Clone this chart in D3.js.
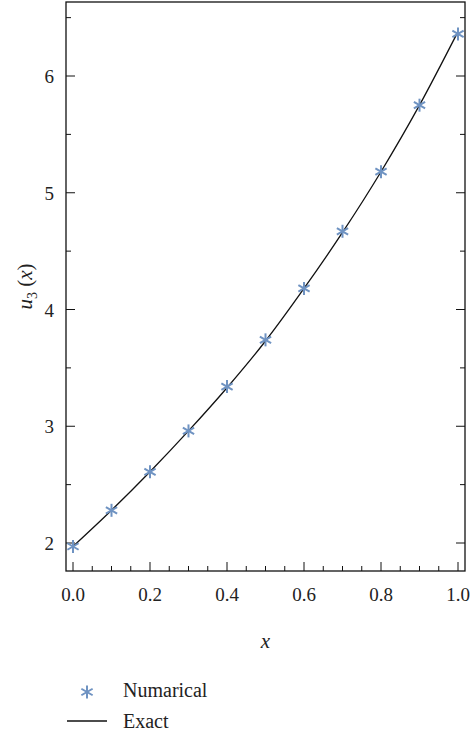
<!DOCTYPE html>
<html>
<head>
<meta charset="utf-8">
<script src="https://cdn.jsdelivr.net/npm/d3@7"></script>
<style>
  body { margin: 0; background: #fff; }
  text { font-family: "Liberation Serif", "DejaVu Serif", serif; fill: #222; }
</style>
</head>
<body>
<script>
var xs = [0, 0.1, 0.2, 0.3, 0.4, 0.5, 0.6, 0.7, 0.8, 0.9, 1.0];
var numerical = [1.97, 2.28, 2.61, 2.96, 3.34, 3.74, 4.18, 4.67, 5.18, 5.75, 6.36];
var exact = [1.97, 2.28, 2.61, 2.96, 3.33, 3.73, 4.18, 4.66, 5.18, 5.75, 6.38];
var xTicks = [0, 0.2, 0.4, 0.6, 0.8, 1.0];
var yTicks = [2, 3, 4, 5, 6];

var width = 474, height = 737;
var L = 66, R = 465, T = 2, B = 571;

var svg = d3.select('body').append('svg').attr('width', width).attr('height', height);

var x = d3.scaleLinear().domain([0, 1]).range([73, 458]);
var y = d3.scaleLinear().domain([2, 6]).range([543, 76]);

// frame
svg.append('rect').attr('x', L).attr('y', T).attr('width', R - L).attr('height', B - T)
  .attr('fill', 'none').attr('stroke', '#111').attr('stroke-width', 1.3);

// x ticks (inward, major + minor)
d3.range(0, 1.0001, 0.05).forEach(function (v, i) {
  var len = i % 4 === 0 ? 9 : 5;
  svg.append('line').attr('x1', x(v)).attr('x2', x(v)).attr('y1', B).attr('y2', B - len)
    .attr('stroke', '#111');
});
xTicks.forEach(function (v) {
  svg.append('text').attr('x', x(v)).attr('y', B + 30).attr('text-anchor', 'middle')
    .attr('font-size', 19).text(v.toFixed(1));
});

// y ticks on both sides
d3.range(1.5, 6.6, 0.5).forEach(function (v) {
  if (y(v) < T || y(v) > B) return;
  var len = Number.isInteger(v) ? 9 : 5;
  svg.append('line').attr('x1', L).attr('x2', L + len).attr('y1', y(v)).attr('y2', y(v)).attr('stroke', '#111');
  svg.append('line').attr('x1', R).attr('x2', R - len).attr('y1', y(v)).attr('y2', y(v)).attr('stroke', '#111');
});
yTicks.forEach(function (v) {
  svg.append('text').attr('x', L - 12).attr('y', y(v) + 7).attr('text-anchor', 'end')
    .attr('font-size', 19).text(v);
});

// axis labels
svg.append('text').attr('x', (L + R) / 2).attr('y', 648).attr('text-anchor', 'middle')
  .attr('font-size', 21).attr('font-style', 'italic').text('x');
svg.append('text').attr('transform', 'translate(32,' + ((T + B) / 2) + ') rotate(-90)')
  .attr('text-anchor', 'middle').attr('font-size', 21)
  .html('<tspan font-style="italic">u</tspan><tspan font-size="14" dy="5">3</tspan><tspan dy="-5"> (</tspan><tspan font-style="italic">x</tspan><tspan>)</tspan>');

// exact line
var line = d3.line().x(function (d, i) { return x(xs[i]); }).y(function (d) { return y(d); })
  .curve(d3.curveMonotoneX);
svg.append('path').datum(exact).attr('d', line).attr('fill', 'none')
  .attr('stroke', '#111').attr('stroke-width', 1.3);

// asterisk marker
function star(g, cx, cy, r) {
  [90, 30, -30].forEach(function (a) {
    var rad = a * Math.PI / 180;
    g.append('line').attr('x1', cx - r * Math.cos(rad)).attr('y1', cy - r * Math.sin(rad))
      .attr('x2', cx + r * Math.cos(rad)).attr('y2', cy + r * Math.sin(rad))
      .attr('stroke', '#6f93c2').attr('stroke-width', 2);
  });
}
numerical.forEach(function (v, i) { star(svg, x(xs[i]), y(v), 6.5); });

// legend
star(svg, 87, 692, 6.5);
svg.append('text').attr('x', 123).attr('y', 697).attr('font-size', 20).text('Numarical');
svg.append('line').attr('x1', 67).attr('x2', 107).attr('y1', 721).attr('y2', 721)
  .attr('stroke', '#111').attr('stroke-width', 1.3);
svg.append('text').attr('x', 123).attr('y', 728).attr('font-size', 20).text('Exact');
</script>
</body>
</html>
